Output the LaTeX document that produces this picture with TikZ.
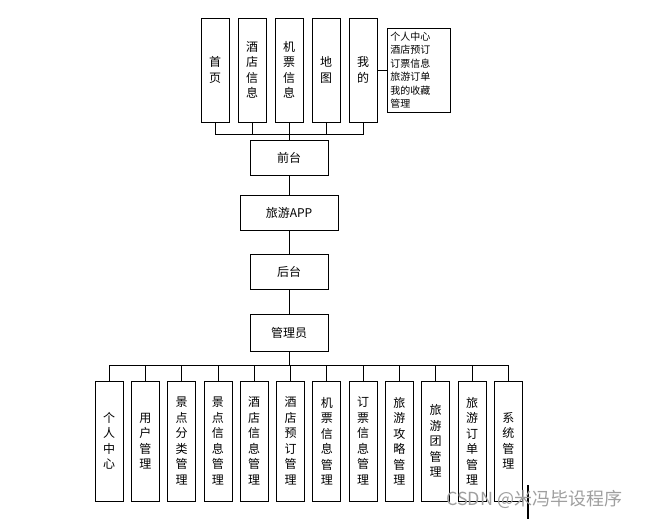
\documentclass[tikz,border=0pt]{standalone}
\usepackage{fontspec}
\setmainfont{Noto Sans CJK SC}
\begin{document}
\begin{tikzpicture}[x=1pt,y=-1pt,
  box/.style={draw,line width=0.8pt,minimum width=28pt,minimum height=#1,inner sep=0pt,align=center,font=\fontsize{12}{15.5}\selectfont},
  hbox/.style={draw,line width=0.8pt,minimum width=78pt,minimum height=35pt,font=\fontsize{12}{14}\selectfont},
  ln/.style={line width=0.8pt}]
\useasboundingbox (0,0) rectangle (654,519);
\node[box=104pt] (t1) at (215,70) {首\\页};
\node[box=104pt] (t2) at (252,70) {酒\\店\\信\\息};
\node[box=104pt] (t3) at (289,70) {机\\票\\信\\息};
\node[box=104pt] (t4) at (326,70) {地\\图};
\node[box=104pt] (t5) at (363,70) {我\\的};
\node[draw,line width=0.8pt,minimum width=63pt,minimum height=84pt,align=left,anchor=north west,inner sep=2pt,font=\fontsize{10}{13.5}\selectfont,text width=57pt] (side) at (387,28) {个人中心\\酒店预订\\订票信息\\旅游订单\\我的收藏\\管理};
\draw[ln] (t5.east) -- (side.west|-t5.east);
\node[hbox] (qt) at (289,157.5) {前台};
\node[hbox,minimum width=98pt] (app) at (289,212.5) {旅游APP};
\node[hbox] (ht) at (289,271.5) {后台};
\node[hbox,minimum height=37pt] (gl) at (289,332.5) {管理员};
\coordinate (bus) at (289,134);
\foreach \i in {1,...,5} \draw[ln] (t\i.south) |- (bus);
\draw[ln] (bus) -- (qt.north);
\draw[ln] (qt) -- (app);
\draw[ln] (app) -- (ht);
\draw[ln] (ht) -- (gl);
\coordinate (bus2) at (289,365);
\draw[ln] (gl.south) -- (bus2);
\foreach [count=\i] \t in {个\\人\\中\\心,用\\户\\管\\理,景\\点\\分\\类\\管\\理,景\\点\\信\\息\\管\\理,酒\\店\\信\\息\\管\\理,酒\\店\\预\\订\\管\\理,机\\票\\信\\息\\管\\理,订\\票\\信\\息\\管\\理,旅\\游\\攻\\略\\管\\理,旅\\游\\团\\管\\理,旅\\游\\订\\单\\管\\理,系\\统\\管\\理}{
  \node[box=120pt] (b\i) at ({109+36.3*(\i-1)},441) {\t};
  \draw[ln] (b\i.north) |- (bus2);
}
\draw[line width=1.2pt] (528,485) -- (528,519);
\node[text=gray!75,font=\fontsize{18}{20}\selectfont,anchor=west,inner sep=0pt] (wm) at (446,499) {CSDN @米冯毕设程序};
\end{tikzpicture}
\end{document}
